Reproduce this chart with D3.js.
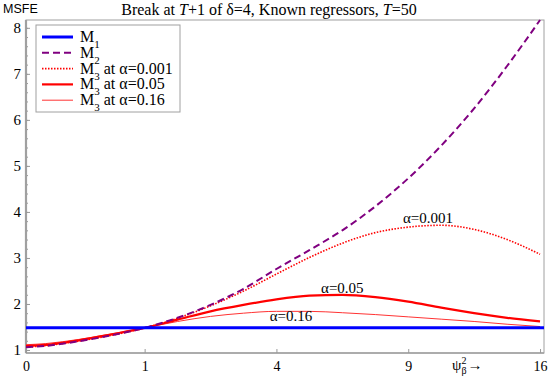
<!DOCTYPE html>
<html lang="en">
<head>
    <meta charset="UTF-8">
    <title>MSFE break</title>
    <script src="https://cdn.jsdelivr.net/npm/d3@7/dist/d3.min.js"></script>
    <style>
        body { margin: 0; background: #fff; }
    </style>
</head>
<body>
<svg width="550" height="379" id="main"></svg>
<script>

    const serif = "'Liberation Serif', 'Times New Roman', serif";

    // psi (sqrt of psi^2); the x axis is linear in psi, labelled with psi^2
    const psi = [0.1, 0.25, 0.5, 0.75, 1, 1.25, 1.5, 1.75, 2, 2.25, 2.5, 2.75, 3, 3.25, 3.5, 3.75, 4];
    const m1Psi = [0.1, 4.03];
    const m1 = [1.485, 1.485];
    const m2 = [1.06, 1.09, 1.19, 1.32, 1.48, 1.70, 1.98, 2.33, 2.76, 3.17, 3.60, 4.12, 4.73, 5.44, 6.25, 7.17, 8.17];
    const m3a001 = [1.065, 1.095, 1.195, 1.32, 1.48, 1.69, 1.96, 2.28, 2.65, 3.01, 3.32, 3.55, 3.67, 3.71, 3.62, 3.40, 3.08];
    const m3a05 = [1.085, 1.11, 1.21, 1.34, 1.48, 1.66, 1.84, 1.98, 2.10, 2.18, 2.20, 2.15, 2.05, 1.92, 1.80, 1.70, 1.62];
    const m3a16 = [1.115, 1.14, 1.23, 1.35, 1.48, 1.62, 1.73, 1.80, 1.84, 1.84, 1.81, 1.77, 1.72, 1.67, 1.62, 1.56, 1.51];

    const xTicks = [0.1, 1, 2, 3, 4];
    const xTickLabels = ["0", "1", "4", "9", "16"];
    const yTicks = [1, 2, 3, 4, 5, 6, 7, 8];

    const series = [
        {name: "M", sub: "1", tail: "", xs: m1Psi, values: m1, color: "#0000ff", width: 3, dash: null},
        {name: "M", sub: "2", tail: "", xs: psi, values: m2, color: "#800080", width: 2, dash: "7,4"},
        {name: "M", sub: "3", tail: " at α=0.001", xs: psi, values: m3a001, color: "#ff0000", width: 1.6, dash: "1.5,1.5"},
        {name: "M", sub: "3", tail: " at α=0.05", xs: psi, values: m3a05, color: "#ff0000", width: 2.2, dash: null},
        {name: "M", sub: "3", tail: " at α=0.16", xs: psi, values: m3a16, color: "#ff3333", width: 1, dash: null}
    ];

    const curveLabels = [
        {text: "α=0.001", at: 3.15, v: 3.76},
        {text: "α=0.05", at: 2.5, v: 2.23},
        {text: "α=0.16", at: 2.11, v: 1.62}
    ];

    draw();

    function draw() {
        const margin = {top: 20, right: 6, bottom: 26, left: 26};
        const width = 550, height = 379;
        const svg = d3.select('#main');

        const x = d3.scaleLinear()
            .domain([0.1, 4.03])
            .range([margin.left, width - margin.right]);
        const y = d3.scaleLinear()
            .domain([0.935, 8.17])
            .range([height - margin.bottom, margin.top]);

        // frame
        svg.append("rect")
            .attr("x", margin.left).attr("y", margin.top)
            .attr("width", width - margin.right - margin.left)
            .attr("height", height - margin.bottom - margin.top)
            .attr("fill", "none").attr("stroke", "#a0a0a0").attr("stroke-width", 1);

        // y axis with minor ticks
        const minor = d3.range(1, 8.01, 0.2);
        svg.append("g")
            .attr("transform", `translate(${margin.left},0)`)
            .call(d3.axisRight(y).tickValues(minor).tickSize(2).tickFormat(""))
            .call(g => g.select(".domain").remove())
            .call(g => g.selectAll("line").attr("stroke", "#999"));
        svg.append("g")
            .attr("transform", `translate(${margin.left},0)`)
            .call(d3.axisLeft(y).tickValues(yTicks).tickSize(-4).tickPadding(5).tickFormat(d3.format("d")))
            .call(g => g.select(".domain").attr("stroke", "#a0a0a0").attr("stroke-width", 2.2)
                .attr("d", `M0,${margin.top}V${height - margin.bottom}`))
            .call(g => g.selectAll("line").attr("stroke", "#999"))
            .call(g => g.selectAll("text").style("font-family", serif).style("font-size", "15px").attr("fill", "#000"));

        // x axis
        svg.append("g")
            .attr("transform", `translate(0,${height - margin.bottom})`)
            .call(d3.axisBottom(x).tickValues(xTicks).tickSize(-4).tickPadding(8)
                .tickFormat((d, i) => xTickLabels[i]))
            .call(g => g.select(".domain").attr("stroke", "#a0a0a0").attr("stroke-width", 1.5)
                .attr("d", `M${margin.left},0H${width - margin.right}`))
            .call(g => g.selectAll("line").attr("stroke", "#999"))
            .call(g => g.selectAll("text").style("font-family", serif).style("font-size", "14px").attr("fill", "#000"));

        // x axis label
        const xl = svg.append("text")
            .attr("x", 452).attr("y", 370)
            .style("font-family", serif).style("font-size", "15px");
        xl.append("tspan").text("ψ");
        xl.append("tspan").attr("dy", -6).style("font-size", "10px").text("2");
        xl.append("tspan").attr("dx", -5).attr("dy", 10).style("font-size", "10px").text("β");
        xl.append("tspan").attr("dy", -4).attr("dx", 1).text("→");

        // y axis title
        svg.append("text")
            .attr("x", 3).attr("y", 13)
            .style("font-family", "'Liberation Sans', Arial, sans-serif")
            .style("font-size", "12.5px")
            .text("MSFE");

        // title
        const title = svg.append("text")
            .attr("x", 269).attr("y", 15)
            .attr("text-anchor", "middle")
            .style("font-family", serif).style("font-size", "16px");
        title.append("tspan").text("Break at ");
        title.append("tspan").attr("font-style", "italic").text("T");
        title.append("tspan").text("+1 of δ=4, Known regressors, ");
        title.append("tspan").attr("font-style", "italic").text("T");
        title.append("tspan").text("=50");

        // lines
        const line = d3.line()
            .x(d => x(d[0]))
            .y(d => y(d[1]))
            .curve(d3.curveMonotoneX);

        svg.append("g")
            .selectAll("path")
            .data(series.slice().reverse())
            .join("path")
            .attr("fill", "none")
            .attr("stroke", d => d.color)
            .attr("stroke-width", d => d.width)
            .attr("stroke-dasharray", d => d.dash)
            .attr("d", d => line(d.values.map((v, i) => [d.xs[i], v])));

        svg.append("g")
            .selectAll("text")
            .data(curveLabels)
            .join("text")
            .attr("x", d => x(d.at))
            .attr("y", d => y(d.v))
            .attr("text-anchor", "middle")
            .style("font-family", serif).style("font-size", "15px")
            .text(d => d.text);

        // legend
        const legend = svg.append("g").attr("transform", "translate(36,25)");
        legend.append("rect")
            .attr("width", 144).attr("height", 87)
            .attr("fill", "#fff").attr("stroke", "#a0a0a0");
        const row = legend.selectAll("g.row")
            .data(series)
            .join("g")
            .attr("class", "row")
            .attr("transform", (d, i) => `translate(0,${12 + i * 15.8})`);
        row.append("line")
            .attr("x1", 6).attr("x2", 37)
            .attr("stroke", d => d.color)
            .attr("stroke-width", d => d.width)
            .attr("stroke-dasharray", d => d.dash);
        const lt = row.append("text")
            .attr("x", 44).attr("y", 5)
            .style("font-family", serif).style("font-size", "16px");
        lt.append("tspan").text(d => d.name);
        lt.append("tspan").attr("dy", 6).style("font-size", "11px").text(d => d.sub);
        lt.append("tspan").attr("dy", -6).text(d => d.tail);
    }
</script>
</body>
</html>
